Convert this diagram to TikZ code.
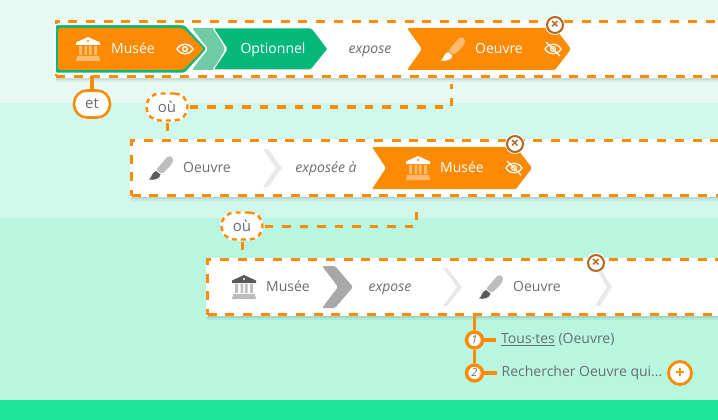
\documentclass[tikz,border=0pt]{standalone}
\usepackage{fontspec}
\setmainfont{Open Sans}
\usetikzlibrary{calc}
\definecolor{orng}{HTML}{FD8A03}
\definecolor{grn}{HTML}{04B87A}
\definecolor{palegrn}{HTML}{6FCBA5}
\definecolor{txt}{HTML}{6A6D74}
\definecolor{brown}{HTML}{B5651D}
\definecolor{bandA}{HTML}{E6FAF3}
\definecolor{bandB}{HTML}{D0F8EA}
\definecolor{bandC}{HTML}{B8F6DF}
\definecolor{bandD}{HTML}{1CE29A}
\definecolor{lightchev}{HTML}{E8E8E8}
\definecolor{darkchev}{HTML}{A8A8A8}
\definecolor{icodark}{HTML}{5A5A5E}
\definecolor{icolight}{HTML}{BDBDBD}
\definecolor{whiteL}{HTML}{FFBC70}
\tikzset{
  whiteunder/.style={preaction={draw=white,solid}},
  rowbox/.style={draw=orng,fill=white,line width=3pt,dash pattern=on 9pt off 8.7pt,whiteunder,anchor=north west,minimum width=700pt,minimum height=55pt,inner sep=0pt,outer sep=0pt},
  lab/.style={font=\fontsize{14}{16}\selectfont,text height=10pt,text depth=3pt,inner sep=0pt},
  labw/.style={lab,text=white},
  labg/.style={lab,text=txt},
  labi/.style={lab,text=txt,font=\fontsize{14}{16}\itshape\selectfont},
  pill/.style={fill=white,rounded corners=13pt,minimum width=36pt,minimum height=27pt,inner sep=0pt,text=txt,font=\fontsize{15}{16}\selectfont},
  pillsolid/.style={pill,draw=orng,line width=2.6pt},
  pilldash/.style={pill,draw=orng,line width=2.4pt,dash pattern=on 5pt off 4pt,whiteunder},
  conn/.style={draw=orng,line width=3.2pt},
  conndash/.style={draw=orng,line width=3pt,dash pattern=on 8.5pt off 9pt},
  tag/.style={circle,draw=orng,fill=white,line width=3.4pt,minimum size=16pt,inner sep=0pt,text=txt,font=\fontsize{11}{12}\itshape\selectfont},
  addbtn/.style={circle,draw=orng,fill=white,line width=2.8pt,minimum size=23pt,inner sep=0pt,text=orng,font=\fontsize{17}{18}\bfseries\selectfont},
  closebtn/.style={circle,draw=brown,fill=white,line width=2pt,minimum size=16pt,inner sep=0pt,text=brown,font=\fontsize{15}{15}\bfseries\selectfont},
  chevw/.style={fill=white,draw=white,line width=1pt,rounded corners=1.5pt},
}
\newcommand{\museumicon}[4]{%
  \begin{scope}[shift={(#1,#2)}]
    \fill[#3] (0,-12) -- (12,-6.5) -- (12,-4) -- (-12,-4) -- (-12,-6.5) -- cycle;
    \fill[#4] (-9,-3) rectangle (-6,6) (-3.5,-3) rectangle (-0.8,6) (0.8,-3) rectangle (3.5,6) (6,-3) rectangle (9,6);
    \fill[#4] (-11,7) rectangle (11,9.5) (-12,9.5) rectangle (12,12);
  \end{scope}}
\newcommand{\brushicon}[4]{%
  \begin{scope}[shift={(#1,#2)}]
    \fill[#4,rounded corners=2pt] (7.5,-12.5) -- (12.5,-10) -- (11,-4) -- (1,6) -- (-5,2) -- cycle;
    \fill[#3] (-5,3) -- (-0.5,6.5) .. controls (-1,11) and (-7,12.5) .. (-12,11.5) .. controls (-9,10) and (-10,5) .. (-5,3) -- cycle;
  \end{scope}}
\newcommand{\eyeicon}[2]{%
  \begin{scope}[shift={(#1,#2)}]
    \draw[white,line width=1.4pt] (-8,0) .. controls (-4,-6.5) and (4,-6.5) .. (8,0) .. controls (4,6.5) and (-4,6.5) .. (-8,0) -- cycle;
    \draw[white,line width=1.4pt] (0,0) circle (2.4);
  \end{scope}}
\newcommand{\eyeoff}[2]{%
  \begin{scope}[shift={(#1,#2)}]
    \draw[white,line width=1.2pt] (-8,0) .. controls (-4,-6.5) and (4,-6.5) .. (8,0) .. controls (4,6.5) and (-4,6.5) .. (-8,0) -- cycle;
    \draw[white,line width=1.2pt] (0,0) circle (2.4);
    \draw[white,line width=1.2pt] (-7,-7) -- (7,7);
  \end{scope}}
\begin{document}
\begin{tikzpicture}[x=1pt,y=-1pt]
\useasboundingbox (0,0) rectangle (718,420);
\clip (0,0) rectangle (718,420);
% background bands
\fill[bandA] (0,0) rectangle (718,103);
\fill[bandB] (0,103) rectangle (718,218);
\fill[bandC] (0,218) rectangle (718,400);
\fill[bandD] (0,400) rectangle (718,420);
% shadows
\foreach \t/\l in {78/56,197/131,316/207}{
  \fill[black,opacity=.05] (\l,\t) rectangle (718,\t+4);
  \fill[black,opacity=.07] (\l,\t) rectangle (718,\t+2);
}
% rows
\node[rowbox] (row1) at (56,21.5) {};
\node[rowbox] (row2) at (131.5,140.5) {};
\node[rowbox] (row3) at (207.5,259.5) {};

% row 1 shapes
\fill[palegrn,rounded corners=1.5pt] (192,28) -- (214,28) -- (225,49) -- (214,70) -- (192,70) -- (208,49) -- cycle;
\draw[white,line width=1.5pt,fill=grn,rounded corners=2pt] (55,24.5) -- (185,24.5) -- (207.5,49) -- (185,73.5) -- (55,73.5) -- cycle;
\fill[orng,rounded corners=2pt] (58,28) -- (183,28) -- (204,49) -- (183,70) -- (58,70) -- cycle;
\draw[chevw,fill=grn] (213,28) -- (312,28) -- (328,49) -- (311,70) -- (213,70) -- (227,49) -- cycle;
\fill[orng,rounded corners=1.5pt] (407,28) -- (555,28) -- (571,49) -- (555,70) -- (407,70) -- (422,49) -- cycle;
\museumicon{88}{49}{white}{whiteL}
\fill[orng] (88,41) circle (1.2);
\node[labw] (m1) at (133,50) {Musée};
\eyeicon{185}{49}
\node[labw] (op) at (273,50) {Optionnel};
\node[labi] (ex1) at (370,50) {expose};
\brushicon{453}{49}{white}{whiteL}
\node[labw] (oe1) at (499,50) {Oeuvre};
\eyeoff{553}{49}
\fill[white] (555,25) circle (10);
\node[closebtn] (c1) at (555,25) {×};

% row 2 shapes
\brushicon{161}{168}{icodark}{icolight}
\node[labg] (oe2) at (207,169) {Oeuvre};
\fill[lightchev] (263,149) -- (268,149) -- (282,168) -- (268,187) -- (263,187) -- (276,168) -- cycle;
\node[labi] (ex2) at (326,169) {exposée à};
\fill[orng,rounded corners=1.5pt] (372,147) -- (516,147) -- (532,168) -- (516,189) -- (372,189) -- (386,168) -- cycle;
\museumicon{418}{168}{white}{whiteL}
\fill[orng] (418,160) circle (1.2);
\node[labw] (m2) at (462,169) {Musée};
\eyeoff{514}{168}
\fill[white] (515,144) circle (10);
\node[closebtn] (c2) at (515,144) {×};

% row 3 shapes
\museumicon{244}{287}{icodark}{icolight}
\fill[white] (244,279) circle (1.2);
\node[labg] (m3) at (288,288) {Musée};
\fill[darkchev,rounded corners=1.5pt] (322,266) -- (335,266) -- (353,287) -- (335,308) -- (322,308) -- (338,287) -- cycle;
\node[labi] (ex3) at (390,288) {expose};
\fill[lightchev] (443,268) -- (447,268) -- (462,287) -- (447,306) -- (443,306) -- (457,287) -- cycle;
\brushicon{491}{287}{icodark}{icolight}
\node[labg] (oe3) at (537,288) {Oeuvre};
\fill[lightchev] (596,268) -- (600,268) -- (612,287) -- (600,306) -- (595,306) -- (607,287) -- cycle;
\fill[white] (596,263) circle (10);
\node[closebtn] (c3) at (596,263) {×};

% et / où pills
\node[pillsolid] (et) at (92,104) {et};
\node[pilldash,minimum width=41pt] (ou1) at (167,107) {où};
\node[pilldash,minimum width=41pt] (ou2) at (242,226) {où};
\coordinate (a1) at (451.5,84);
\coordinate (a2) at (416.5,203);
\draw[conn] (et.north |- row1.south) -- (et.north);
\draw[conndash] (ou1.east) ++(1,0) -- (a1 |- ou1.east) -- (a1);
\draw[conndash] (ou2.east) ++(1,0) -- (a2 |- ou2.east) -- (a2);
\draw[conndash] (ou1.south) ++(0,1) -- (ou1.south |- row2.north);
\draw[conndash] (ou2.south) ++(0,1) -- (ou2.south |- row3.north);

% list under row 3
\coordinate (s3) at (474,316);
\node[tag] (t1) at (474.5,340) {1};
\node[tag] (t2) at (474.5,373) {2};
\node[labg,anchor=west] (l1) at (501,340) {\underline{Tous·tes} (Oeuvre)};
\node[labg,anchor=west] (l2) at (501.5,373) {Rechercher Oeuvre qui...};
\node[addbtn] (plus) at (680,373) {+};
\draw[conn] (s3 -| t1) -- (t1.north);
\draw[conn] (t1.south) -- (t2.north);
\draw[conn] (t1.east) -- ($(l1.west)+(-5,0)$);
\draw[conn] (t2.east) -- ($(l2.west)+(-5,0)$);
\end{tikzpicture}
\end{document}
